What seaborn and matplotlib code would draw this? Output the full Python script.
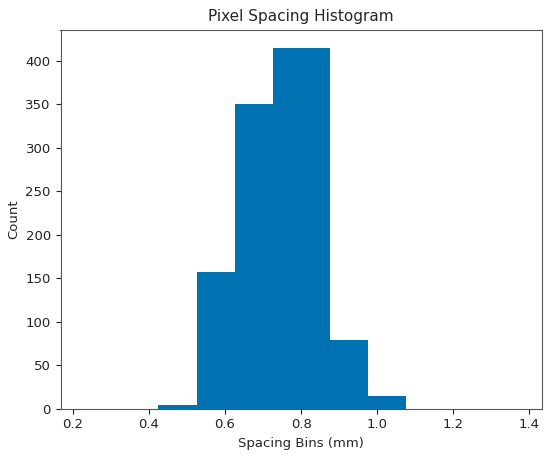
import numpy as np
import matplotlib
matplotlib.use("Agg")
import matplotlib.pyplot as plt
import seaborn as sns

# bin edges (mm) and counts
bin_edges = [0.225, 0.325, 0.425, 0.525, 0.625, 0.725, 0.875, 0.975, 1.075, 1.175, 1.275, 1.375]
counts = [0, 0, 4, 157, 350, 415, 79, 14, 0, 0, 0]

centers = [(a + b) / 2 for a, b in zip(bin_edges[:-1], bin_edges[1:])]

sns.set_style("ticks")
plt.rcParams['font.family'] = ['DejaVu Sans']

fig = plt.figure(figsize=(5.5, 4.61), dpi=100)
ax = fig.add_axes([0.110, 0.1135, 0.875, 0.8225])

sns.histplot(x=centers, weights=counts, bins=bin_edges, color="#0072b2",
             alpha=1, linewidth=0, ax=ax)

ax.set_xlim(0.1675, 1.4325)
ax.set_ylim(0, 435.75)
ax.set_xticks([0.2, 0.4, 0.6, 0.8, 1.0, 1.2, 1.4])
ax.set_yticks(range(0, 401, 50))
ax.tick_params(labelsize=9.5, colors="#222222", length=3.5)
for s in ax.spines.values():
    s.set_visible(True)
    s.set_color("#555555")
ax.set_title("Pixel Spacing Histogram", fontsize=11)
ax.set_xlabel("Spacing Bins (mm)", fontsize=9.5)
ax.set_ylabel("Count", fontsize=9.5)

fig.savefig("out.png", dpi=100)
